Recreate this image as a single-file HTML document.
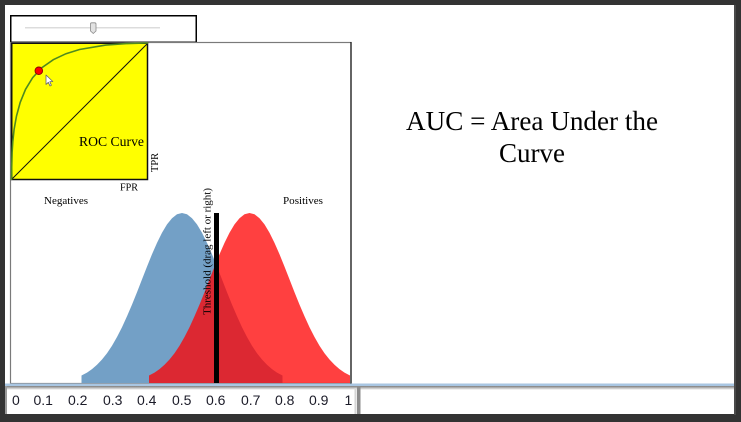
<!DOCTYPE html>
<html><head><meta charset="utf-8">
<style>
html,body{margin:0;padding:0;background:#333;}
body{width:741px;height:422px;overflow:hidden;position:relative;}
svg{position:absolute;left:0;top:0;display:block;}
</style></head>
<body>
<svg width="741" height="422" viewBox="0 0 741 422" xmlns="http://www.w3.org/2000/svg">
  <defs>
    <linearGradient id="sh" x1="0" y1="0" x2="0" y2="1">
      <stop offset="0" stop-color="#7d7d7d"/>
      <stop offset="1" stop-color="#ffffff"/>
    </linearGradient>
    <path id="g" d="M-100.5,383 L-100.5,375.5 L-95,372.6 L-90,369.1 L-85,364.8 L-80,359.5 L-75,353.2 L-70,345.7 L-65,337 L-60,327.2 L-55,316.3 L-50,304.6 L-45,292.2 L-40,279.4 L-35,266.6 L-30,254.3 L-25,242.9 L-20,232.8 L-15,224.4 L-10,218.2 L-5,214.3 L0,213 L5,214.3 L10,218.2 L15,224.4 L20,232.8 L25,242.9 L30,254.3 L35,266.6 L40,279.4 L45,292.2 L50,304.6 L55,316.3 L60,327.2 L65,337 L70,345.7 L75,353.2 L80,359.5 L85,364.8 L90,369.1 L95,372.6 L100.5,375.5 L100.5,383 Z"/>
  </defs>
  <!-- frame -->
  <rect x="0" y="0" width="741" height="422" fill="#333"/>
  <rect x="734" y="5" width="2" height="410" fill="#4a4a4a"/>
  <rect x="5" y="5" width="729" height="409" fill="#fff"/>

  <!-- slider -->
  <rect x="10.75" y="15.75" width="185.5" height="26.5" fill="#fff" stroke="#000" stroke-width="1.5"/>
  <rect x="25" y="27" width="135" height="1.5" fill="#dcdcdc"/>
  <path d="M90.5,24 Q90.5,22.8 91.7,22.8 L94.8,22.8 Q96,22.8 96,24 L96,31 L93.25,33.5 L90.5,31 Z" fill="#e2e2e2" stroke="#8a8a8a" stroke-width="0.8"/>

  <!-- main chart box -->
  <rect x="10.5" y="42.5" width="340.5" height="341" fill="#fff" stroke="#7a7a7a" stroke-width="1.2"/>
  <line x1="351" y1="42" x2="351" y2="384" stroke="#111" stroke-width="1.2"/>

  <!-- distributions -->
  <use href="#g" transform="translate(182,0)" fill="#73a0c6"/>
  <use href="#g" transform="translate(249.5,0)" fill="#ff0000" fill-opacity="0.75"/>

  <!-- threshold -->
  <rect x="214" y="213" width="5" height="170" fill="#000"/>
  <text transform="translate(210.5,251.5) rotate(-90)" text-anchor="middle" font-family="Liberation Serif, serif" font-size="11" fill="#000" textLength="127" lengthAdjust="spacingAndGlyphs">Threshold (drag left or right)</text>

  <text x="44" y="204" font-family="Liberation Serif, serif" font-size="11" fill="#000" textLength="44" lengthAdjust="spacingAndGlyphs">Negatives</text>
  <text x="283" y="204" font-family="Liberation Serif, serif" font-size="11" fill="#000" textLength="40" lengthAdjust="spacingAndGlyphs">Positives</text>

  <!-- ROC square -->
  <rect x="11.75" y="43.25" width="135.75" height="136.25" fill="#ffff00" stroke="#111" stroke-width="1.5"/>
  <line x1="11.5" y1="179.5" x2="147.5" y2="43.5" stroke="#111" stroke-width="1"/>
  <polyline fill="none" stroke="#4f8a1f" stroke-width="1.6" points="11.5,180 11.5,178.7 11.6,175.4 11.7,167.5 12.1,152.3 12.8,141.6 14.1,129.4 16.5,116 20.2,102.4 25.5,89.4 32.7,77.6 42,67.6 53.3,59.7 66,53.7 79.5,49.5 105.7,45.1 126.3,43.6 138.9,43.2 144.9,43 148,43"/>
  <circle cx="38.8" cy="70.8" r="3.8" fill="#ff0000" stroke="#8a0000" stroke-width="0.9"/>
  <path d="M46,75 L46,84.5 L48.3,82.3 L50,86 L51.4,85.3 L49.8,81.7 L52.8,81.5 Z" fill="#fff" stroke="#666" stroke-width="0.8" stroke-linejoin="round"/>
  <text x="79" y="146" font-family="Liberation Serif, serif" font-size="14" fill="#000" textLength="65" lengthAdjust="spacingAndGlyphs">ROC Curve</text>
  <text transform="translate(158,162.5) rotate(-90)" text-anchor="middle" font-family="Liberation Serif, serif" font-size="10.5" fill="#000" textLength="19" lengthAdjust="spacingAndGlyphs">TPR</text>
  <text x="120" y="190.5" font-family="Liberation Serif, serif" font-size="10.5" fill="#000" textLength="18" lengthAdjust="spacingAndGlyphs">FPR</text>

  <!-- AUC text -->
  <text x="532" y="130" text-anchor="middle" font-family="Liberation Serif, serif" font-size="27" fill="#000" textLength="252" lengthAdjust="spacingAndGlyphs">AUC = Area Under the</text>
  <text x="532" y="162" text-anchor="middle" font-family="Liberation Serif, serif" font-size="27" fill="#000">Curve</text>

  <!-- bottom bar -->
  <rect x="5" y="383.5" width="729" height="2.5" fill="#a9c6e2"/>
  <rect x="5" y="386" width="729" height="4" fill="url(#sh)"/>
  <rect x="5" y="386" width="2" height="28" fill="#9a9a9a"/>
  <rect x="354.5" y="388" width="2" height="26" fill="#d6d6d6"/>
  <rect x="357" y="386" width="3.5" height="28" fill="#8c8c8c"/>
  <g font-family="Liberation Sans, sans-serif" font-size="14" fill="#1b1b28">
    <text x="12" y="405">0</text>
    <text x="33.5" y="405">0.1</text>
    <text x="68" y="405">0.2</text>
    <text x="103" y="405">0.3</text>
    <text x="137" y="405">0.4</text>
    <text x="172" y="405">0.5</text>
    <text x="206" y="405">0.6</text>
    <text x="241" y="405">0.7</text>
    <text x="275" y="405">0.8</text>
    <text x="309" y="405">0.9</text>
    <text x="344.5" y="405">1</text>
  </g>
</svg>
</body></html>
